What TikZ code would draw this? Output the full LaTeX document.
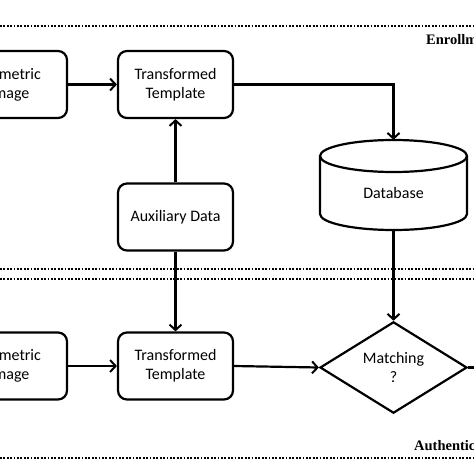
\documentclass[tikz,border=0pt]{standalone}
\usepackage{fontspec}
\setmainfont{Carlito}
\newfontfamily\titlefont{Liberation Serif}
\usetikzlibrary{arrows.meta,shapes.geometric}
\begin{document}
\begin{tikzpicture}[x=1pt,y=-1pt,
  every node/.style={font=\fontsize{16}{19}\selectfont},
  boxstyle/.style={draw,line width=2.2pt,rounded corners=9pt,minimum width=115pt,minimum height=67pt,align=center,inner sep=0pt},
  dia/.style={draw,line width=2.2pt,diamond,minimum width=147pt,minimum height=79pt,align=center,inner sep=0pt},
  conn/.style={line width=2.2pt,-{Straight Barb[length=5.5pt,width=12pt,line width=2pt]}},
  plain/.style={line width=2.2pt},
  sep/.style={line width=1.8pt,dash pattern=on 1.7pt off 1.7pt},
  ttl/.style={font=\titlefont\bfseries\fontsize{14.5}{17}\selectfont,anchor=base west,inner sep=0pt}]
\useasboundingbox (0,0) rectangle (474,474);
\fill[white] (0,0) rectangle (474,474);
\clip (0,0) rectangle (474,474);
% separators
\coordinate (s1a) at (0,26);   \coordinate (s1b) at (474,26);
\coordinate (s2a) at (0,269);  \coordinate (s2b) at (474,269);
\coordinate (s3a) at (0,279);  \coordinate (s3b) at (474,279);
\coordinate (s4a) at (0,458);  \coordinate (s4b) at (474,458);
\draw[sep] (s1a) -- (s1b);
\draw[sep] (s2a) -- (s2b);
\draw[sep] (s3a) -- (s3b);
\draw[sep] (s4a) -- (s4b);
\node[ttl] (enr) at (426,44) {Enrollment};
\node[ttl] (auth) at (414,450) {Authentication};
% nodes
\node[boxstyle] (bio1) at (9.5,84.5) {Biometric\\Image};
\node[boxstyle] (tt1) at (175.5,84.5) {Transformed\\Template};
\node[boxstyle] (aux) at (175.5,217) {Auxiliary Data};
\node[boxstyle] (bio2) at (9.5,366) {Biometric\\Image};
\node[boxstyle] (tt2) at (175.5,366) {Transformed\\Template};
\node[dia] (match) at (393.5,367.5) {Matching\\?};
% database cylinder
\node[minimum width=147pt,minimum height=90pt,inner sep=0pt] (db) at (393.5,185) {};
\draw[plain] (320,156) -- (320,214) arc[start angle=180,end angle=0,x radius=73.5,y radius=16] -- (467,156);
\draw[plain] (393.5,156) ellipse[x radius=73.5,y radius=16];
\node (dbt) at (393.5,193) {Database};
% connectors
\coordinate (c1) at (393.5,84.5);
\coordinate (out) at (474,367.5);
\draw[conn] (bio1.east) -- (tt1.west);
\draw[conn] (aux.north) -- (tt1.south);
\draw[conn] (tt1.east) -- (c1) -- (db.north);
\draw[conn] (aux.south) -- (tt2.north);
\draw[conn] (bio2.east) -- (tt2.west);
\draw[conn] (tt2.east) -- (match.west);
\draw[conn] (db.south) -- (match.north);
\draw[plain] (match.east) -- (out);
\end{tikzpicture}
\end{document}
